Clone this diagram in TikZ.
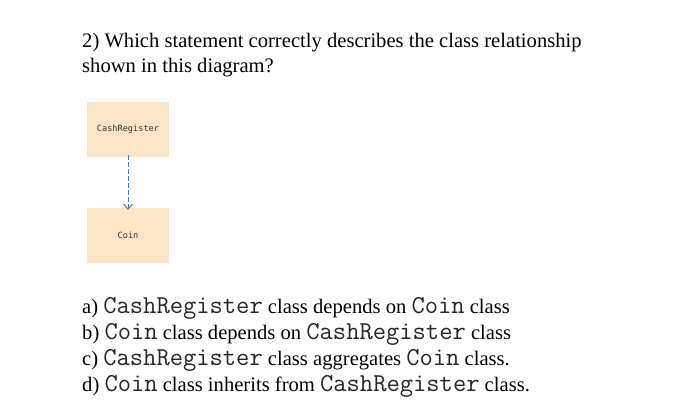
\documentclass[tikz,border=0pt]{standalone}
\usepackage{fontspec}
\setmainfont{Liberation Serif}
\newfontfamily\boxfont{DejaVu Sans Mono}
\usetikzlibrary{arrows.meta}
\definecolor{boxfill}{HTML}{FCE5C7}
\definecolor{deparrow}{HTML}{3F7BB6}
\newcommand{\code}[1]{{\fontsize{25.8}{28}\selectfont\ttfamily\color{black!85}#1}}

\begin{document}
\begin{tikzpicture}[x=1pt,y=-1pt,
  classbox/.style={fill=boxfill,minimum width=82pt,minimum height=55pt,inner sep=0pt,
    font=\boxfont\fontsize{8.6}{10}\selectfont,text=black!80},
  qline/.style={anchor=base west,inner sep=0pt,font=\fontsize{20.6}{24}\selectfont},
  depends/.style={deparrow,line width=1pt,dash pattern=on 4.5pt off 2.5pt,
    -{Straight Barb[length=5pt,width=9pt]}}]
\useasboundingbox (0,0) rectangle (700,416);
\node (q1) at (82,47) [qline] {2) Which statement correctly describes the class relationship};
\node (q2) at (82,72) [qline] {shown in this diagram?};
\node (cash) at (128,129.5) [classbox] {CashRegister};
\node (coin) at (128,235.5) [classbox] {Coin};
\draw [depends] ([yshift=2pt]cash.south) -- ([yshift=-2pt]coin.north);
\node (a) at (82,313) [qline] {a) \code{CashRegister} class depends on \code{Coin} class};
\node (b) at (82,339) [qline] {b) \code{Coin} class depends on \code{CashRegister} class};
\node (c) at (82,365) [qline] {c) \code{CashRegister} class aggregates \code{Coin} class.};
\node (d) at (82,391) [qline] {d) \code{Coin} class inherits from \code{CashRegister} class.};
\end{tikzpicture}
\end{document}
